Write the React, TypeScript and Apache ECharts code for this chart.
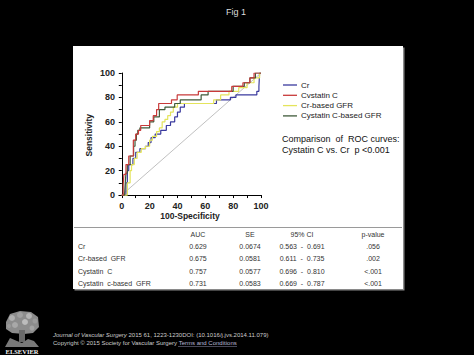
import React, { useEffect, useRef } from "react";
import * as echarts from "echarts";

const seriesNames = ["Cr", "Cvstatin C", "Cr-based GFR", "Cystatin C-based GFR"];
const seriesColors = ["#3a3a9e", "#c83a3a", "#e4e45c", "#3f5a3a"];

// step points: [100-Specificity, Sensitivity]
const crPts = [[0, 0], [2, 0], [3, 10], [4, 20], [5, 25], [8, 30], [10, 35], [13, 38], [17, 40], [19, 43], [21, 47], [24, 50], [28, 53], [32, 57], [35, 60], [38, 64], [40, 68], [42, 72], [45, 75], [68, 78], [78, 80], [82, 82], [97, 85], [98.5, 89], [99, 100], [100, 100]];
const cysPts = [[0, 0], [1, 8], [1.5, 17], [3, 25], [5, 32], [8.3, 45], [10, 50], [12, 53], [13.6, 57], [20, 61], [22.6, 65], [25, 70], [26.5, 75], [35.7, 78], [39.8, 82], [55, 85], [79, 89], [87, 92], [92, 96], [95, 100], [100, 100]];
const crGfrPts = [[0, 0], [3, 0], [4, 10], [6, 20], [7, 25], [9, 30], [11, 35], [14, 38], [17, 40], [20, 45], [22, 48], [25, 52], [27, 55], [29, 60], [31, 62], [33, 65], [35, 68], [37, 72], [40, 75], [66, 78], [71, 82], [77, 85], [84, 88], [90, 92], [95, 96], [99, 100], [100, 100]];
const cysGfrPts = [[0, 0], [2, 0], [2.5, 10], [3, 18], [4, 25], [6, 32], [8.5, 40], [9.5, 45], [10.5, 50], [11.5, 53], [13, 55], [20, 60], [23, 64], [27, 70], [31, 72], [38, 75], [42, 78], [57, 82], [62, 85], [80, 89], [88, 92], [92, 96], [96, 100], [100, 100]];
const curves = [crPts, cysPts, crGfrPts, cysGfrPts];

const tickValues = [0, 20, 40, 60, 80, 100];
const minorTickValues = [0, 10, 20, 30, 40, 50, 60, 70, 80, 90, 100];

const tableHeader = ["AUC", "SE", "95% CI", "p-value"];
const tableRows = ["Cr", "Cr-based  GFR", "Cystatin  C", "Cystatin  c-based  GFR"];
const aucValues = ["0.629", "0.675", "0.757", "0.731"];
const seValues = ["0.0674", "0.0581", "0.0577", "0.0583"];
const ciValues = ["0.563  -  0.691", "0.611  -  0.735", "0.696  -  0.810", "0.669  -  0.787"];
const pValues = [".056", ".002", "<.001", "<.001"];

const FONT = "'Liberation Sans', Arial, sans-serif";

export default function App() {
  const ref = useRef<HTMLDivElement>(null);
  useEffect(() => {
    if (!ref.current) return;
    const chart = echarts.init(ref.current, null, { renderer: "svg" });

    const colX = [198, 250, 302, 373];
    const rowY = [246, 258.5, 271, 283.5];
    const tableEls: any[] = [];
    tableHeader.forEach((h, i) => {
      tableEls.push({ type: "text", x: colX[i], y: 234, z: 10, style: { text: h, fill: "#333", font: `7px ${FONT}`, align: "center", verticalAlign: "middle" } });
    });
    const cols = [aucValues, seValues, ciValues, pValues];
    tableRows.forEach((r, ri) => {
      tableEls.push({ type: "text", x: 78, y: rowY[ri], z: 10, style: { text: r, fill: "#333", font: `7px ${FONT}`, align: "left", verticalAlign: "middle" } });
      cols.forEach((c, ci) => {
        tableEls.push({ type: "text", x: colX[ci], y: rowY[ri], z: 10, style: { text: c[ri], fill: "#333", font: `7px ${FONT}`, align: "center", verticalAlign: "middle" } });
      });
    });

    const logoDots: any[] = [
      [12, 318, 3, "#b0b0b0"], [20, 315, 3, "#a0a0a0"], [29, 316, 3, "#b4b4b4"], [35, 321, 2.5, "#9c9c9c"],
      [15, 325, 3, "#a8a8a8"], [25, 322, 3, "#bcbcbc"], [32, 328, 2.5, "#a4a4a4"], [9, 326, 2, "#9a9a9a"],
    ].map(([cx, cy, r, c]) => ({ type: "circle", z: 6, shape: { cx, cy, r }, style: { fill: c } }));

    const option: any = {
      animation: false,
      backgroundColor: "#000",
      grid: { left: 119, right: 213, top: 73, bottom: 157.5 },
      legend: {
        orient: "vertical",
        left: 278,
        top: 75,
        icon: "rect",
        itemWidth: 14,
        itemHeight: 1.3,
        itemGap: 0.3,
        data: seriesNames,
        textStyle: { color: "#222", fontSize: 8, fontFamily: FONT, lineHeight: 10, padding: [0, 0, 0, -1] },
      },
      xAxis: [
        {
          type: "value",
          min: -2,
          max: 100,
          name: "100-Specificity",
          nameLocation: "middle",
          nameGap: 14,
          nameTextStyle: { color: "#222", fontSize: 8.5, fontWeight: "bold", fontFamily: FONT },
          axisLine: { show: true, lineStyle: { color: "#000", width: 1 } },
          axisTick: { show: true, customValues: minorTickValues, length: 3, lineStyle: { color: "#000" } },
          axisLabel: { customValues: tickValues, margin: 4, color: "#222", fontSize: 9, fontWeight: "bold", fontFamily: FONT },
          splitLine: { show: false },
        },
      ],
      yAxis: [
        {
          type: "value",
          min: -2,
          max: 100,
          name: "Sensitivity",
          nameLocation: "middle",
          nameGap: 26,
          nameTextStyle: { color: "#222", fontSize: 8.5, fontWeight: "bold", fontFamily: FONT },
          axisLine: { show: true, lineStyle: { color: "#000", width: 1 } },
          axisTick: { show: true, customValues: minorTickValues, length: 3, lineStyle: { color: "#000" } },
          axisLabel: { customValues: tickValues, margin: 4, color: "#222", fontSize: 9, fontWeight: "bold", fontFamily: FONT },
          splitLine: { show: false },
        },
      ],
      series: [
        {
          type: "line",
          name: "diag",
          data: [[0, 0], [100, 100]],
          showSymbol: false,
          lineStyle: { color: "#b0b0b0", width: 0.8 },
          silent: true,
          z: 1,
        },
        ...seriesNames.map((n, i) => ({
          type: "line",
          name: n,
          data: curves[i],
          step: "end",
          showSymbol: false,
          color: seriesColors[i],
          lineStyle: { color: seriesColors[i], width: 1.2 },
          z: 3 + (i === 1 ? 1 : 0),
        })),
      ],
      graphic: {
        elements: [
          { type: "rect", z: -2, shape: { x: 74.5, y: 47.5, width: 330, height: 243 }, style: { fill: "#8a8a8a" } },
          { type: "rect", z: -1, shape: { x: 73, y: 46, width: 330, height: 243 }, style: { fill: "#fff" } },
          { type: "line", z: 5, shape: { x1: 74, y1: 227.5, x2: 402, y2: 227.5 }, style: { stroke: "#9a9a9a", lineWidth: 1 } },
          { type: "text", x: 236, y: 12, z: 10, style: { text: "Fig 1", fill: "#ddd", font: `9px ${FONT}`, align: "center", verticalAlign: "middle" } },
          { type: "text", x: 282, y: 139, z: 10, style: { text: "Comparison  of  ROC curves:", fill: "#111", font: `9px ${FONT}`, align: "left", verticalAlign: "middle" } },
          { type: "text", x: 282, y: 149.5, z: 10, style: { text: "Cystatin C vs. Cr  p <0.001", fill: "#111", font: `9px ${FONT}`, align: "left", verticalAlign: "middle" } },
          ...tableEls,
          // Elsevier logo (stylised tree)
          { type: "polygon", z: 5, shape: { points: [[6, 322], [10, 314], [20, 311], [31, 312], [38, 317], [39, 327], [33, 333], [24, 334], [12, 333], [6, 329]] }, style: { fill: "#8c8c8c" } },
          ...logoDots,
          { type: "rect", z: 6, shape: { x: 19, y: 330, width: 6, height: 12 }, style: { fill: "#6a6a6a" } },
          { type: "polygon", z: 6, shape: { points: [[5, 347], [10, 338], [17, 341], [22, 343], [28, 339], [34, 341], [39, 347]] }, style: { fill: "#7a7a7a" } },
          { type: "text", x: 22, y: 351, z: 10, style: { text: "ELSEVIER", fill: "#eee", font: `bold 6.5px 'Liberation Serif', serif`, align: "center", verticalAlign: "middle" } },
          {
            type: "text", x: 53, y: 335, z: 10,
            style: {
              text: "{i|Journal of Vascular Surgery} 2015 61, 1223-1230DOI: (10.1016/j.jvs.2014.11.079)",
              fill: "#ccc", font: `6px ${FONT}`, align: "left", verticalAlign: "middle",
              rich: { i: { fill: "#ccc", font: `italic 6px ${FONT}` } },
            },
          },
          {
            type: "text", x: 53, y: 343, z: 10,
            style: {
              text: "Copyright © 2015 Society for Vascular Surgery {u|Terms and Conditions}",
              fill: "#ccc", font: `6px ${FONT}`, align: "left", verticalAlign: "middle",
              rich: { u: { fill: "#b8b8d8", font: `6px ${FONT}` } },
            },
          },
          { type: "line", z: 10, shape: { x1: 178, y1: 346.5, x2: 237, y2: 346.5 }, style: { stroke: "#9090b0", lineWidth: 0.5 } },
        ],
      },
    };
    chart.setOption(option);
    return () => chart.dispose();
  }, []);
  return <div ref={ref} style={{ position: "fixed", left: 0, top: 0, width: 474, height: 355 }} />;
}
